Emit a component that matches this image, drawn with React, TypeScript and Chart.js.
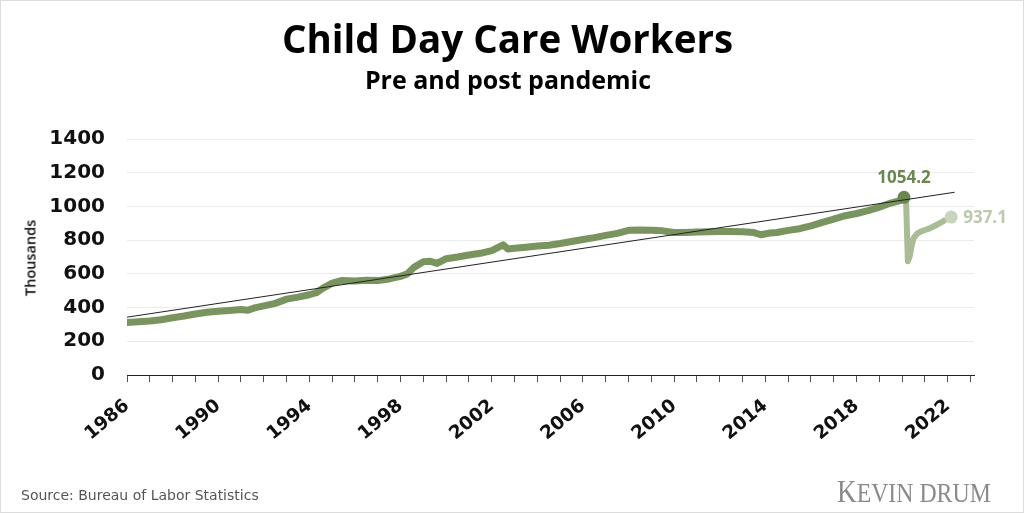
import React, { useEffect, useRef } from 'react';
import Chart from 'chart.js/auto';

// Child day care employment, thousands
const preYears = [
  1986.0, 1986.5, 1987.0, 1987.5, 1988.0, 1988.5, 1989.0, 1989.5, 1990.0, 1990.5,
  1991.0, 1991.3, 1991.6, 1992.0, 1992.5, 1993.0, 1993.5, 1994.0, 1994.3, 1994.6,
  1995.0, 1995.4, 1996.0, 1996.5, 1997.0, 1997.5, 1998.0, 1998.3, 1998.6, 1999.0,
  1999.3, 1999.6, 2000.0, 2000.5, 2001.0, 2001.5, 2002.0, 2002.5, 2002.7, 2003.0,
  2003.5, 2004.0, 2004.5, 2005.0, 2005.5, 2006.0, 2006.5, 2007.0, 2007.5, 2008.0,
  2008.5, 2009.0, 2009.5, 2010.0, 2010.5, 2011.0, 2011.5, 2012.0, 2012.5, 2013.0,
  2013.5, 2013.8, 2014.2, 2014.5, 2015.0, 2015.5, 2016.0, 2016.5, 2017.0, 2017.5,
  2018.0, 2018.5, 2019.0, 2019.5, 2019.9, 2020.08,
];
const preValues = [
  312, 316, 320, 328, 340, 350, 362, 372, 378, 383,
  388, 384, 398, 410, 425, 450, 462, 476, 488, 515,
  545, 560, 558, 562, 560, 570, 585, 600, 640, 672,
  675, 662, 690, 700, 712, 722, 738, 772, 748, 752,
  758, 765, 770, 780, 792, 804, 815, 828, 840, 858,
  860, 858, 855, 845, 845, 848, 850, 852, 852, 850,
  845, 832, 842, 845, 858, 868, 885, 905, 925, 945,
  958, 975, 996, 1020, 1035, 1054.2,
];

const postYears = [
  2020.08, 2020.17, 2020.25, 2020.33, 2020.42, 2020.5, 2020.67, 2020.83,
  2021.0, 2021.17, 2021.33, 2021.5, 2021.67, 2021.83,
];
const postValues = [
  1054.2, 1035, 675, 705, 770, 812, 840, 852,
  860, 868, 878, 890, 902, 915,
];

const peakYear = 2020.08;
const peakValue = 1054.2;
const latestYear = 2022.15;
const latestValue = 937.1;

const trendYears = [1986.0, 2022.3];
const trendValues = [343, 1084];

const tickYears = Array.from({ length: 38 }, (_, i) => 1986 + i);
const labelEvery = 4;

const preColor = 'rgb(122, 148, 95)';
const peakColor = 'rgb(108, 134, 82)';
const postColor = 'rgb(170, 188, 149)';
const latestColor = 'rgb(200, 212, 188)';
const latestText = 'rgb(188, 201, 175)';

const pts = (xs: number[], ys: number[]) => xs.map((x, i) => ({ x, y: ys[i] }));

const labelPlugin = {
  id: 'pointLabels',
  afterDatasetsDraw(chart: any) {
    const { ctx, scales } = chart;
    const x = scales.x;
    const y = scales.y;
    ctx.save();
    ctx.font = 'bold 17px "Open Sans"';
    ctx.fillStyle = peakColor;
    ctx.textAlign = 'center';
    ctx.textBaseline = 'alphabetic';
    ctx.fillText(peakValue.toFixed(1), x.getPixelForValue(peakYear), y.getPixelForValue(peakValue) - 14);
    ctx.fillStyle = latestText;
    ctx.textAlign = 'left';
    ctx.textBaseline = 'middle';
    ctx.fillText(latestValue.toFixed(1), x.getPixelForValue(latestYear) + 12, y.getPixelForValue(latestValue) + 1);
    ctx.restore();
  },
};

const App: React.FC = () => {
  const chartRef = useRef<HTMLCanvasElement>(null);
  const chartInstance = useRef<Chart | null>(null);

  useEffect(() => {
    document.body.style.margin = '0';
    if (!chartRef.current) return;
    if (chartInstance.current) chartInstance.current.destroy();
    const ctx = chartRef.current.getContext('2d');
    if (!ctx) return;

    chartInstance.current = new Chart(ctx, {
      type: 'line',
      data: {
        datasets: [
          {
            label: 'Trend',
            data: pts(trendYears, trendValues),
            borderColor: '#222',
            borderWidth: 1,
            pointRadius: 0,
          },
          {
            label: 'Peak',
            data: [{ x: peakYear, y: peakValue }],
            showLine: false,
            pointRadius: 6.5,
            pointBackgroundColor: peakColor,
            pointBorderWidth: 0,
          },
          {
            label: 'Latest',
            data: [{ x: latestYear, y: latestValue }],
            showLine: false,
            pointRadius: 6.5,
            pointBackgroundColor: latestColor,
            pointBorderWidth: 0,
          },
          {
            label: 'Pre-pandemic',
            data: pts(preYears, preValues),
            borderColor: preColor,
            borderWidth: 7,
            borderCapStyle: 'round',
            borderJoinStyle: 'round',
            pointRadius: 0,
          },
          {
            label: 'Post-pandemic',
            data: pts(postYears, postValues),
            borderColor: postColor,
            borderWidth: 6,
            borderCapStyle: 'round',
            borderJoinStyle: 'round',
            pointRadius: 0,
          },
        ],
      },
      options: {
        responsive: true,
        maintainAspectRatio: false,
        animation: false,
        layout: { padding: { top: 138, left: 0, right: 49, bottom: 57 } },
        plugins: {
          legend: { display: false },
          tooltip: { enabled: false },
        },
        scales: {
          x: {
            type: 'linear',
            min: 1986,
            max: 2023.15,
            afterBuildTicks: (scale: any) => {
              scale.ticks = tickYears.map(v => ({ value: v }));
            },
            afterFit: (scale: any) => {
              scale.height = 80;
            },
            ticks: {
              autoSkip: false,
              minRotation: 40,
              maxRotation: 40,
              padding: 13,
              color: '#111',
              font: { family: '"DejaVu Sans"', size: 18.5, weight: 'bold' },
              callback: (v: any) => ((Number(v) - 1986) % labelEvery === 0 ? String(v) : ''),
            },
            grid: {
              drawOnChartArea: false,
              drawTicks: true,
              tickLength: 7,
              color: '#555',
            },
            border: { display: true, color: '#222', width: 1 },
          },
          y: {
            min: 0,
            max: 1400,
            afterFit: (scale: any) => {
              scale.width = 126;
            },
            ticks: {
              stepSize: 200,
              padding: 22,
              color: '#111',
              font: { family: '"DejaVu Sans"', size: 20, weight: 'bold' },
              callback: (v: any) => String(v),
            },
            grid: { color: '#ebebeb', drawTicks: false },
            border: { display: false },
          },
        },
      },
      plugins: [labelPlugin],
    });

    return () => {
      if (chartInstance.current) {
        chartInstance.current.destroy();
        chartInstance.current = null;
      }
    };
  }, []);

  return (
    <div
      style={{
        position: 'fixed',
        left: 0,
        top: 0,
        width: 1024,
        height: 513,
        boxSizing: 'border-box',
        border: '1px solid #dcdcdc',
        background: '#fff',
        overflow: 'hidden',
      }}
    >
      <canvas ref={chartRef} style={{ position: 'absolute', left: 0, top: 0 }} />
      <div
        style={{
          position: 'absolute', left: 0, width: 1013, top: 18, textAlign: 'center',
          font: '700 38.5px/38px "Open Sans"', color: '#000',
        }}
      >
        Child Day Care Workers
      </div>
      <div
        style={{
          position: 'absolute', left: 0, width: 1014, top: 65, textAlign: 'center',
          font: '700 25px/26px "Open Sans"', color: '#000',
        }}
      >
        Pre and post pandemic
      </div>
      <div
        style={{
          position: 'absolute', left: 29, top: 257, transform: 'translate(-50%, -50%) rotate(-90deg)',
          font: '600 14.5px "Open Sans"', color: '#111', whiteSpace: 'nowrap',
        }}
      >
        Thousands
      </div>
      <div
        style={{
          position: 'absolute', left: 20, top: 487, font: '14px/14px "DejaVu Sans"', color: '#555',
        }}
      >
        Source: Bureau of Labor Statistics
      </div>
      <div
        style={{
          position: 'absolute', left: 836, top: 476, font: '28px/28px "Liberation Serif"', color: '#8a8a8a',
          transform: 'scaleX(0.85)', transformOrigin: 'left top', whiteSpace: 'nowrap',
        }}
      >
        <span style={{ fontSize: 32 }}>K</span>EVIN DRUM
      </div>
    </div>
  );
};

export default App;
